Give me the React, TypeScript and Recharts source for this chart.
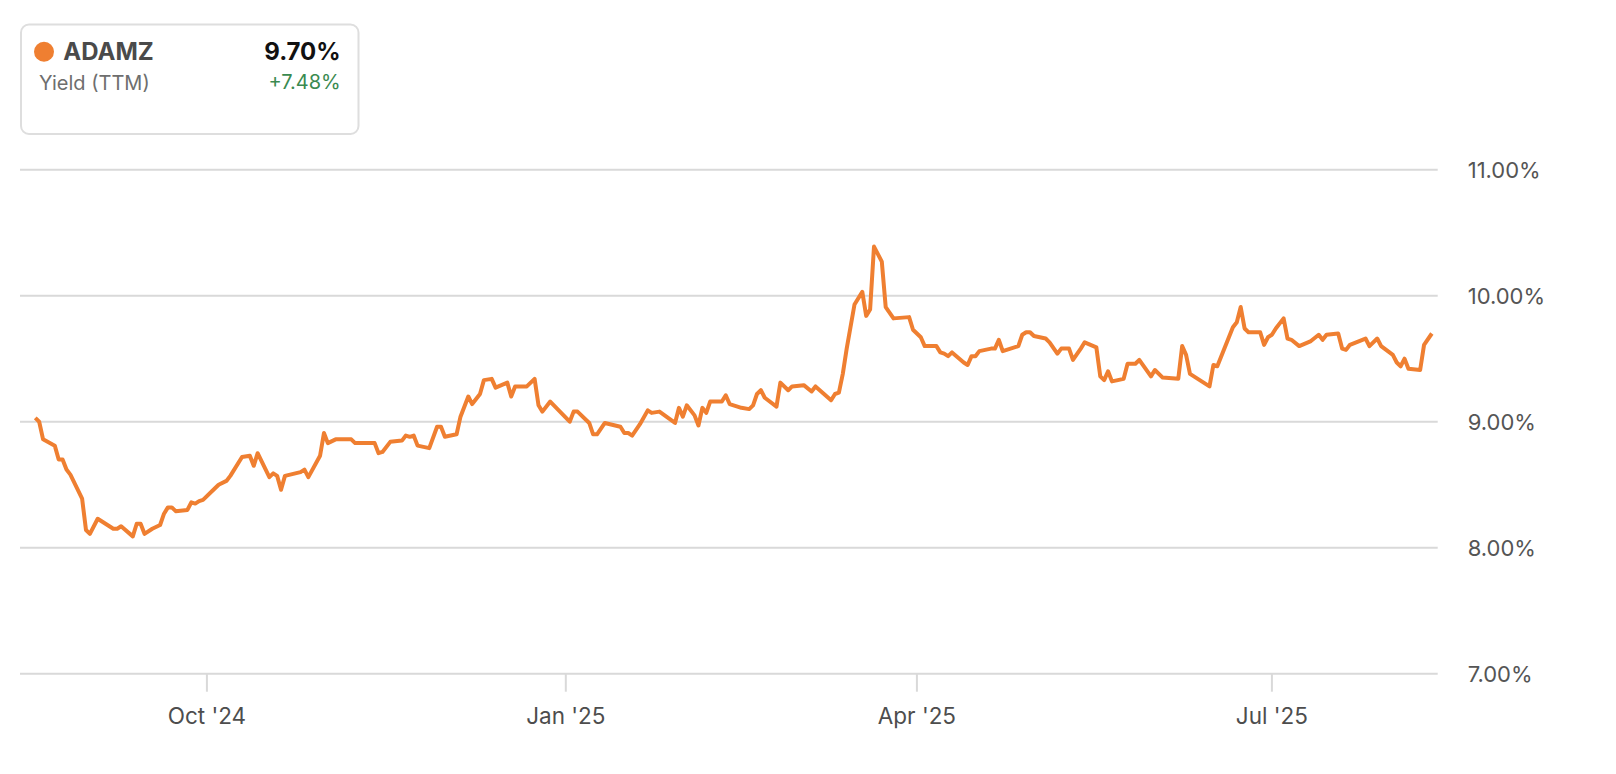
import { CartesianGrid, Line, LineChart, XAxis, YAxis } from 'recharts'

// daily TTM yield
const dates = [
  '2024-08-18', '2024-08-19', '2024-08-20', '2024-08-23', '2024-08-24', '2024-08-25', '2024-08-26', '2024-08-27',
  '2024-08-30', '2024-08-31', '2024-09-01', '2024-09-03', '2024-09-05', '2024-09-07', '2024-09-08', '2024-09-09',
  '2024-09-12', '2024-09-13', '2024-09-14', '2024-09-15', '2024-09-17', '2024-09-19', '2024-09-20', '2024-09-21',
  '2024-09-22', '2024-09-23', '2024-09-26', '2024-09-27', '2024-09-28', '2024-09-29', '2024-09-30', '2024-10-03',
  '2024-10-04', '2024-10-06', '2024-10-07', '2024-10-10', '2024-10-12', '2024-10-13', '2024-10-14', '2024-10-17',
  '2024-10-18', '2024-10-19', '2024-10-20', '2024-10-21', '2024-10-25', '2024-10-26', '2024-10-27', '2024-10-30',
  '2024-10-31', '2024-11-01', '2024-11-03', '2024-11-07', '2024-11-08', '2024-11-13', '2024-11-14', '2024-11-15',
  '2024-11-17', '2024-11-20', '2024-11-21', '2024-11-22', '2024-11-23', '2024-11-24', '2024-11-27', '2024-11-29',
  '2024-11-30', '2024-12-01', '2024-12-04', '2024-12-05', '2024-12-07', '2024-12-08', '2024-12-10', '2024-12-11',
  '2024-12-13', '2024-12-14', '2024-12-17', '2024-12-18', '2024-12-19', '2024-12-22', '2024-12-24', '2024-12-25',
  '2024-12-26', '2024-12-28', '2025-01-02', '2025-01-03', '2025-01-04', '2025-01-07', '2025-01-08', '2025-01-09',
  '2025-01-11', '2025-01-15', '2025-01-16', '2025-01-17', '2025-01-18', '2025-01-20', '2025-01-22', '2025-01-23',
  '2025-01-25', '2025-01-29', '2025-01-30', '2025-01-31', '2025-02-01', '2025-02-03', '2025-02-04', '2025-02-05',
  '2025-02-06', '2025-02-07', '2025-02-10', '2025-02-11', '2025-02-12', '2025-02-13', '2025-02-15', '2025-02-17',
  '2025-02-18', '2025-02-19', '2025-02-20', '2025-02-21', '2025-02-24', '2025-02-25', '2025-02-27', '2025-02-28',
  '2025-03-03', '2025-03-05', '2025-03-06', '2025-03-10', '2025-03-11', '2025-03-12', '2025-03-13', '2025-03-14',
  '2025-03-16', '2025-03-18', '2025-03-19', '2025-03-20', '2025-03-21', '2025-03-23', '2025-03-24', '2025-03-26',
  '2025-03-30', '2025-03-31', '2025-04-02', '2025-04-03', '2025-04-06', '2025-04-07', '2025-04-08', '2025-04-09',
  '2025-04-10', '2025-04-13', '2025-04-14', '2025-04-15', '2025-04-16', '2025-04-17', '2025-04-20', '2025-04-21',
  '2025-04-22', '2025-04-23', '2025-04-27', '2025-04-28', '2025-04-29', '2025-04-30', '2025-05-01', '2025-05-04',
  '2025-05-05', '2025-05-07', '2025-05-08', '2025-05-10', '2025-05-11', '2025-05-13', '2025-05-14', '2025-05-17',
  '2025-05-18', '2025-05-19', '2025-05-20', '2025-05-21', '2025-05-24', '2025-05-25', '2025-05-27', '2025-05-28',
  '2025-05-31', '2025-06-01', '2025-06-03', '2025-06-07', '2025-06-08', '2025-06-09', '2025-06-10', '2025-06-15',
  '2025-06-16', '2025-06-17', '2025-06-21', '2025-06-22', '2025-06-23', '2025-06-24', '2025-06-25', '2025-06-28',
  '2025-06-29', '2025-06-30', '2025-07-01', '2025-07-02', '2025-07-04', '2025-07-05', '2025-07-06', '2025-07-08',
  '2025-07-11', '2025-07-13', '2025-07-14', '2025-07-15', '2025-07-18', '2025-07-19', '2025-07-20', '2025-07-21',
  '2025-07-25', '2025-07-26', '2025-07-28', '2025-07-29', '2025-08-01', '2025-08-02', '2025-08-03', '2025-08-04',
  '2025-08-05', '2025-08-08', '2025-08-09', '2025-08-11',
]

const yields = [
  9.03, 9.0, 8.86, 8.81, 8.7, 8.7, 8.62, 8.58,
  8.39, 8.14, 8.11, 8.23, 8.19, 8.15, 8.15, 8.17,
  8.09, 8.19, 8.19, 8.11, 8.15, 8.18, 8.27, 8.32,
  8.32, 8.29, 8.3, 8.36, 8.35, 8.37, 8.38, 8.47,
  8.5, 8.53, 8.57, 8.72, 8.73, 8.65, 8.75, 8.56,
  8.59, 8.57, 8.46, 8.57, 8.6, 8.62, 8.56, 8.73,
  8.91, 8.83, 8.86, 8.86, 8.83, 8.83, 8.75, 8.76,
  8.84, 8.85, 8.89, 8.88, 8.89, 8.81, 8.79, 8.96,
  8.96, 8.88, 8.9, 9.04, 9.2, 9.14, 9.22, 9.33,
  9.34, 9.27, 9.31, 9.2, 9.28, 9.28, 9.34, 9.13,
  9.08, 9.16, 9.0, 9.08, 9.08, 8.99, 8.9, 8.9,
  8.99, 8.96, 8.91, 8.91, 8.89, 8.98, 9.09, 9.07,
  9.08, 8.99, 9.11, 9.04, 9.13, 9.05, 8.97, 9.11,
  9.07, 9.16, 9.16, 9.21, 9.14, 9.13, 9.11, 9.1,
  9.13, 9.22, 9.25, 9.19, 9.12, 9.31, 9.25, 9.28,
  9.29, 9.24, 9.28, 9.17, 9.22, 9.23, 9.38, 9.58,
  9.93, 10.03, 9.84, 9.89, 10.39, 10.27, 9.91, 9.82,
  9.83, 9.73, 9.67, 9.6, 9.6, 9.55, 9.54, 9.52,
  9.55, 9.47, 9.45, 9.52, 9.52, 9.56, 9.58, 9.58,
  9.65, 9.56, 9.6, 9.69, 9.71, 9.71, 9.68, 9.66,
  9.63, 9.54, 9.58, 9.58, 9.49, 9.58, 9.63, 9.59,
  9.36, 9.33, 9.4, 9.32, 9.34, 9.46, 9.46, 9.49,
  9.36, 9.41, 9.35, 9.34, 9.6, 9.53, 9.38, 9.28,
  9.45, 9.44, 9.75, 9.79, 9.91, 9.74, 9.71, 9.71,
  9.61, 9.67, 9.69, 9.74, 9.82, 9.66, 9.65, 9.6,
  9.64, 9.69, 9.65, 9.69, 9.7, 9.58, 9.57, 9.61,
  9.66, 9.6, 9.66, 9.6, 9.53, 9.47, 9.44, 9.5,
  9.42, 9.41, 9.61, 9.7,
]

const yTicks = [7, 8, 9, 10, 11]
const xTickDates = ['2024-10-01', '2025-01-01', '2025-04-01', '2025-07-01']
const xDomainDates = ['2024-08-14T02:00:00Z', '2025-08-12T12:00:00Z']
const monthNames = ['Jan', 'Feb', 'Mar', 'Apr', 'May', 'Jun', 'Jul', 'Aug', 'Sep', 'Oct', 'Nov', 'Dec']

const ticker = 'ADAMZ'
const metricLabel = 'Yield (TTM)'
const lastValueLabel = '9.70%'
const changeLabel = '+7.48%'

const ORANGE = '#ef7f31'
const GRID = '#d9d9d9'
const FONT = 'Inter, "Noto Sans", sans-serif'

const data = dates.map((d, i) => ({ t: Date.parse(d), value: yields[i] }))

function formatMonthTick(value: number) {
  const d = new Date(value)
  return `${monthNames[d.getUTCMonth()]} '${String(d.getUTCFullYear()).slice(2)}`
}

function Legend() {
  return (
    <svg
      width={400}
      height={150}
      style={{ position: 'absolute', left: 0, top: 0, fontFamily: FONT }}
    >
      <rect x={21} y={24.5} width={337.5} height={109.5} rx={8} fill="#fff" stroke="#dedede" strokeWidth={2} />
      <circle cx={44} cy={51.7} r={10} fill={ORANGE} />
      <text x={63.3} y={60} fontSize={24} fontWeight={700} fill="#4a4a4a">
        {ticker}
      </text>
      <text x={340.7} y={60} fontSize={24} fontWeight={700} fill="#111" textAnchor="end">
        {lastValueLabel}
      </text>
      <text x={39} y={89.5} fontSize={20} fill="#6e6e6e">
        {metricLabel}
      </text>
      <text x={340.7} y={88.5} fontSize={20} fill="#3a8a50" textAnchor="end">
        {changeLabel}
      </text>
    </svg>
  )
}

export default function App() {
  return (
    <div
      style={{
        position: 'absolute',
        left: 0,
        top: 0,
        width: 1616,
        height: 774,
        background: '#fff',
        fontFamily: FONT,
      }}
    >
      <LineChart
        width={1616}
        height={774}
        data={data}
        margin={{ top: 169.7, right: 28.3, bottom: 40.3, left: 20 }}
      >
        <CartesianGrid vertical={false} stroke={GRID} strokeWidth={2} />
        <XAxis
          dataKey="t"
          type="number"
          scale="time"
          domain={xDomainDates.map((d) => Date.parse(d))}
          ticks={xTickDates.map((d) => Date.parse(d))}
          tickFormatter={formatMonthTick}
          height={60}
          axisLine={false}
          tickLine={{ stroke: GRID, strokeWidth: 2 }}
          tickSize={18}
          tickMargin={16}
          tick={{ fill: '#4d4d4d', fontSize: 22.5, fontFamily: FONT }}
          allowDataOverflow
        />
        <YAxis
          orientation="right"
          width={150}
          domain={[7, 11]}
          ticks={yTicks}
          tickFormatter={(v: number) => `${v.toFixed(2)}%`}
          axisLine={false}
          tickLine={false}
          tickSize={0}
          tickMargin={30}
          tick={{ fill: '#555', fontSize: 22, fontFamily: FONT, textAnchor: 'start' }}
        />
        <Line
          type="linear"
          dataKey="value"
          stroke={ORANGE}
          strokeWidth={4}
          strokeLinejoin="round"
          dot={false}
          activeDot={false}
          isAnimationActive={false}
        />
      </LineChart>
      <Legend />
    </div>
  )
}
